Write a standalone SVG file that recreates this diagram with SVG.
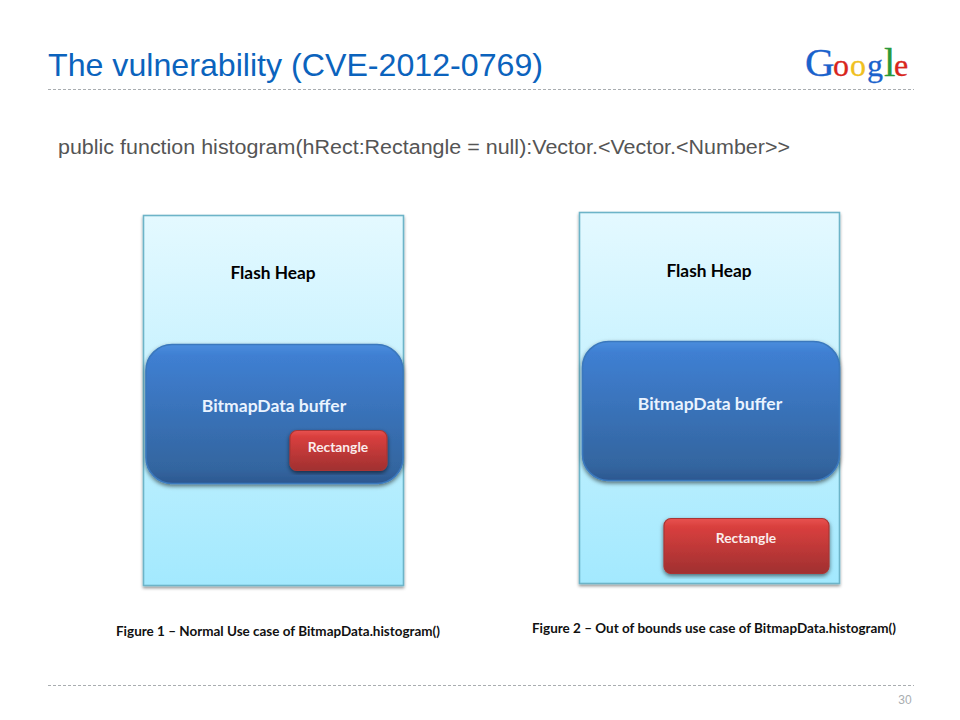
<svg xmlns="http://www.w3.org/2000/svg" width="960" height="720" viewBox="0 0 960 720">
<style>
text{font-family:"Liberation Sans",Arial,sans-serif}
.c{font-family:Lato,"Open Sans",sans-serif;font-weight:700;text-anchor:middle}
.heap{fill:url(#gh);stroke:#6db4c8;stroke-width:1.6;filter:url(#sh)}
.buf{fill:url(#gb);stroke:#3a78bd;stroke-width:1.6;filter:url(#sh2)}
.rec{fill:url(#gr);stroke:#a83634;stroke-width:1.2;filter:url(#sh2)}
.dash{stroke:#a9adb0;stroke-width:1;stroke-dasharray:3 2;fill:none}
.cap{font-size:13.500px;fill:#111;font-family:Lato,"Open Sans",sans-serif;font-weight:700}
.g{font-family:"Liberation Serif",serif;stroke-width:.3}
</style>
<defs>
<linearGradient id="gh" x1="0" y1="0" x2="0" y2="1"><stop offset="0" stop-color="#e4f9ff"/><stop offset="1" stop-color="#a3e9fe"/></linearGradient>
<linearGradient id="gb" x1="0" y1="0" x2="0" y2="1"><stop offset="0" stop-color="#4a8ddd"/><stop offset="0.08" stop-color="#3f7fd2"/><stop offset="0.9" stop-color="#33659f"/><stop offset="1" stop-color="#2c5790"/></linearGradient>
<linearGradient id="gr" x1="0" y1="0" x2="0" y2="1"><stop offset="0" stop-color="#e85250"/><stop offset="0.15" stop-color="#d93f3e"/><stop offset="1" stop-color="#a03030"/></linearGradient>
<filter id="sh" x="-10%" y="-10%" width="120%" height="120%"><feDropShadow dx="0" dy="2" stdDeviation="1.500" flood-color="#000" flood-opacity=".4"/></filter>
<filter id="sh2" x="-10%" y="-10%" width="120%" height="120%"><feDropShadow dx="0" dy="2" stdDeviation="2" flood-color="#000" flood-opacity=".55"/></filter>
</defs>
<rect width="960" height="720" fill="#fff"/>
<text x="48" y="75.500" font-size="30.500" fill="#0b63bd" textLength="495" lengthAdjust="spacingAndGlyphs">The vulnerability (CVE-2012-0769)</text>
<g id="logo">
<text class="g" x="805" y="76" font-size="41" fill="#1a62cc" stroke="#1a62cc">G</text>
<text class="g" x="833" y="76" font-size="32" fill="#d8261c" stroke="#d8261c">o</text>
<text class="g" x="850" y="76" font-size="32" fill="#f0c020" stroke="#f0c020">o</text>
<text class="g" x="867" y="76" font-size="32" fill="#1a62cc" stroke="#1a62cc">g</text>
<text class="g" x="884" y="76" font-size="41" fill="#2a9a3a" stroke="#2a9a3a">l</text>
<text class="g" x="894" y="76" font-size="32" fill="#d8261c" stroke="#d8261c">e</text>
</g>
<path class="dash" d="M48 89.500H914M48 685.500H914"/>
<text x="58" y="153.500" font-size="20" fill="#555" textLength="732" lengthAdjust="spacingAndGlyphs">public function histogram(hRect:Rectangle = null):Vector.&lt;Vector.&lt;Number&gt;&gt;</text>
<text x="905" y="704" font-size="12" fill="#a9adb0" text-anchor="middle">30</text>
<g id="fig1">
<rect class="heap" x="143.500" y="215.500" width="260" height="370"/>
<text class="c" x="273" y="278.500" font-size="17.300" fill="#000">Flash Heap</text>
<rect class="buf" x="146" y="344.500" width="257" height="139" rx="26"/>
<text class="c" x="274" y="411.500" font-size="17.500" fill="#eaf3ff">BitmapData buffer</text>
<rect class="rec" x="290" y="430.500" width="97" height="40" rx="7"/>
<text class="c" x="338" y="452" font-size="13.800" fill="#fbecec">Rectangle</text>
<text class="cap" x="116" y="636" textLength="324" lengthAdjust="spacingAndGlyphs">Figure 1 – Normal Use case of BitmapData.histogram()</text>
</g>
<g id="fig2">
<rect class="heap" x="579.500" y="212.500" width="260" height="371"/>
<text class="c" x="709" y="276.500" font-size="17.300" fill="#000">Flash Heap</text>
<rect class="buf" x="582.500" y="341.500" width="257" height="139" rx="26"/>
<text class="c" x="710" y="409.500" font-size="17.500" fill="#eaf3ff">BitmapData buffer</text>
<rect class="rec" x="664" y="518.500" width="165" height="55" rx="7"/>
<text class="c" x="746" y="543" font-size="13.800" fill="#fbecec">Rectangle</text>
<text class="cap" x="532" y="633" textLength="364" lengthAdjust="spacingAndGlyphs">Figure 2 – Out of bounds use case of BitmapData.histogram()</text>
</g>
</svg>
